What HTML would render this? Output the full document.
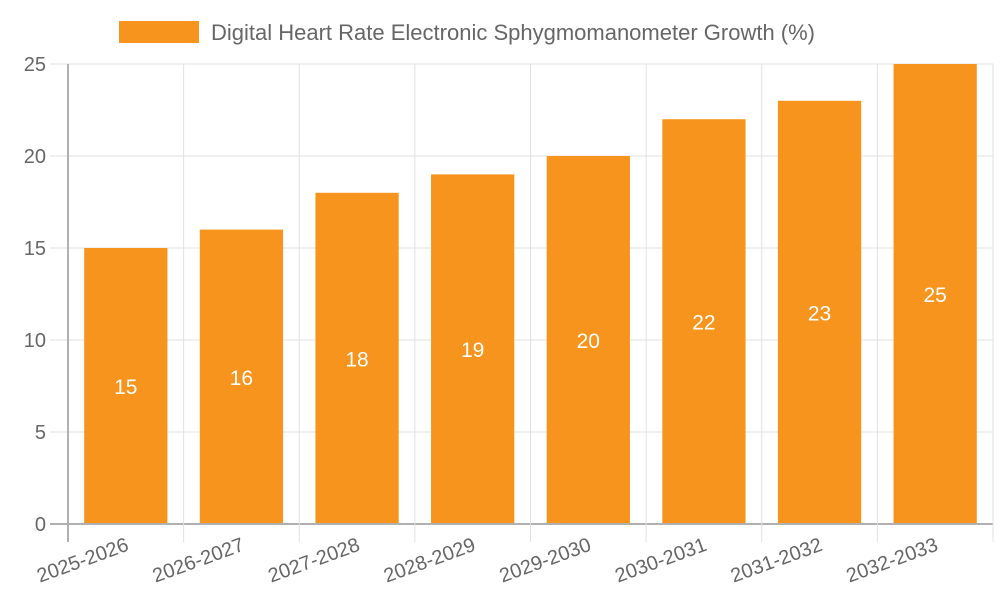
<!DOCTYPE html>
<html><head><meta charset="utf-8"><style>
html,body{margin:0;padding:0;background:#fff;width:1000px;height:600px;overflow:hidden}
svg text{font-family:"Liberation Sans",sans-serif}
</style></head><body>
<svg id="chart" width="1000" height="600"></svg>
<script>
const categories=["2025-2026","2026-2027","2027-2028","2028-2029","2029-2030","2030-2031","2031-2032","2032-2033"];
const values=[15,16,18,19,20,22,23,25];
const yTicks=[0,5,10,15,20,25];
const seriesName="Digital Heart Rate Electronic Sphygmomanometer Growth (%)";
const NS="http://www.w3.org/2000/svg";
const svg=document.getElementById('chart');
const L=68,R=993,T=64,B=524,yMax=25;
const band=(R-L)/categories.length;
const y=v=>B-(v/yMax)*(B-T);
const x=i=>L+i*band;
function mk(tag,attrs,text){const e=document.createElementNS(NS,tag);for(const k in attrs)e.setAttribute(k,attrs[k]);if(text!==undefined)e.textContent=text;svg.appendChild(e);return e;}
// horizontal grid + y ticks
yTicks.forEach(t=>{
  const g=mk('line',{x1:L-18,x2:R,y1:y(t),y2:y(t),stroke:t===0?'#b0b0b0':'#e0e0e0','stroke-width':t===0?2:1});
  
  
  const lb=mk('text',{x:L-22,y:y(t)+7,'text-anchor':'end','font-size':20,fill:'#666'},String(t));
  
  
});
// vertical grid
for(let i=0;i<=categories.length;i++){
  const g=mk('line',{x1:x(i),x2:x(i),y1:T,y2:B+18,stroke:i===0?'#b0b0b0':'#e0e0e0','stroke-width':i===0?2:1});
  
  
}
// bars
values.forEach((v,i)=>{
  const bw=band*0.72, cx=x(i)+band/2;
  const r=mk('rect',{x:cx-bw/2,y:y(v),width:bw,height:B-y(v)-1,fill:'#f7941d'});
  
  
  const t=mk('text',{x:cx,y:(y(v)+B)/2+8,'text-anchor':'middle','font-size':21,fill:'#fff'},String(v));
  
  
  const xl=mk('text',{x:cx+4,y:B+26,'text-anchor':'end','font-size':20,fill:'#666',transform:`rotate(-20 ${cx+4} ${B+26})`},categories[i]);
  
  
});
// legend
const lr=mk('rect',{x:119,y:21,width:80,height:22,fill:'#f7941d'});


const lt=mk('text',{x:211,y:40,'font-size':22,fill:'#666'},seriesName);


</script>
</body></html>
